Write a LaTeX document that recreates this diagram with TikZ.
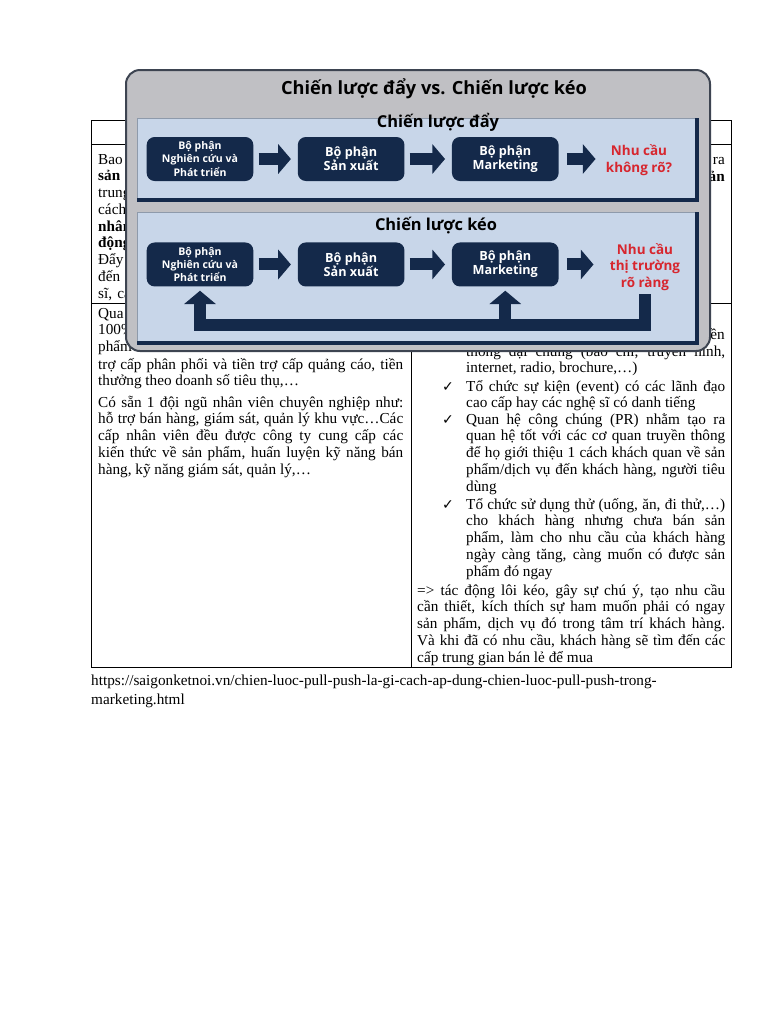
\documentclass[tikz,border=0pt]{standalone}
\usepackage{fontspec}
\setmainfont{Liberation Serif}
\newfontfamily\diagfont{Open Sans}
\newfontfamily\symbfont{DejaVu Sans}
\usetikzlibrary{arrows.meta, positioning}

\definecolor{navy}{HTML}{14294A}
\definecolor{panelblue}{HTML}{C8D6E9}
\definecolor{rimblue}{HTML}{8E9AAB}
\definecolor{boxgray}{HTML}{C0C0C4}
\definecolor{rimgray}{HTML}{3D4451}
\definecolor{needred}{HTML}{D7262E}

\newcommand\tabsize{\fontsize{13pt}{14.3pt}\selectfont\lineskiplimit=-30pt\relax}
\newcommand\ticksym{{\symbfont\fontsize{12pt}{12pt}\selectfont ✓}}

\begin{document}
\begin{tikzpicture}[x=0.03cm, y=-0.03cm,
    tabrule/.style={line width=0.7pt},
    cell/.style={font=\tabsize, inner sep=0pt, anchor=base west, align=justify},
    frag/.style={font=\tabsize, inner sep=0pt, anchor=base west, text width=1.5cm, align=left},
    rcell/.style={font=\tabsize, inner sep=0pt, anchor=base east},
    chk/.style={inner sep=0pt, anchor=base west},
    outerbox/.style={draw=rimgray, fill=boxgray, line width=0.06cm, rounded corners=0.42cm},
    panelrim/.style={draw=rimblue, line width=0.03cm},
    panelshade/.style={draw=navy, line width=0.1cm},
    heading/.style={font=\diagfont\bfseries\fontsize{15.5pt}{18pt}\selectfont, inner sep=0pt},
    subheading/.style={font=\diagfont\bfseries\fontsize{14pt}{16pt}\selectfont, inner sep=0pt},
    dept/.style={fill=navy, text=white, rounded corners=0.24cm, align=center,
      minimum width=3.2cm, minimum height=1.32cm, inner sep=0pt,
      font=\diagfont\bfseries\fontsize{10.8pt}{12.2pt}\selectfont},
    deptsmall/.style={dept, font=\diagfont\bfseries\fontsize{9pt}{11.4pt}\selectfont},
    need/.style={text=needred, align=center, inner sep=1pt,
      font=\diagfont\bfseries\fontsize{11.5pt}{14.2pt}\selectfont},
    blk/.style={navy, line width=0.36cm, -{Triangle[length=0.38cm, width=0.87cm]},
      shorten <=0.15cm, shorten >=0.2cm},
    fb/.style={navy, line width=0.36cm, line join=miter,
      -{Triangle[length=0.4cm, width=0.93cm]}, shorten >=0.12cm},
    node distance=1.32cm
  ]
    \fill[white] (0,0) rectangle (768,1024);

    % table behind the picture
    \draw[tabrule] (91,120) rectangle (731,667);
    \draw[tabrule] (91,144) -- (731,144);
    \draw[tabrule] (91,303) -- (731,303);
    \draw[tabrule] (411,120) -- (411,667);

    \node[frag] (leftA) at (98,164) {Bao\\ \textbf{sản}\\ trung\\ cách\\ \textbf{nhân}\\ \textbf{động}\\ Đẩy\\ đến\\ sĩ, ca};
    \node[rcell] (rightA1) at (725,164) {ra};
    \node[rcell] (rightA2) at (725,181) {\textbf{sản}};

    \node[frag] (leftB) at (98,318) {Qua\\ 100\%\\ phẩm};
    \node[cell, text width=9.15cm] (leftB1) at (98,369)
      {trợ cấp phân phối và tiền trợ cấp quảng cáo, tiền\linebreak
       thưởng theo doanh số tiêu thụ,…};
    \node[cell, text width=9.15cm] (leftB2) at (98,407)
      {Có sẵn 1 đội ngũ nhân viên chuyên nghiệp như:\linebreak
       hỗ trợ bán hàng, giám sát, quản lý khu vực…Các\linebreak
       cấp nhân viên đều được công ty cung cấp các\linebreak
       kiến thức về sản phẩm, huấn luyện kỹ năng bán\linebreak
       hàng, kỹ năng giám sát, quản lý,…};

    \node[rcell] (rightB0) at (725,339) {truyền};
    \node[cell, text width=7.77cm] (rightB1) at (466,356)
      {thông đại chúng (báo chí, truyền hình,\linebreak
       internet, radio, brochure,…)};
    \node[chk] (tickB2) at (442,391) {\ticksym};
    \node[cell, text width=7.77cm] (rightB2) at (466,391)
      {Tổ chức sự kiện (event) có các lãnh đạo\linebreak
       cao cấp hay các nghệ sĩ có danh tiếng};
    \node[chk] (tickB3) at (442,424) {\ticksym};
    \node[cell, text width=7.77cm] (rightB3) at (466,424)
      {Quan hệ công chúng (PR) nhằm tạo ra\linebreak
       quan hệ tốt với các cơ quan truyền thông\linebreak
       để họ giới thiệu 1 cách khách quan về sản\linebreak
       phẩm/dịch vụ đến khách hàng, người tiêu\linebreak
       dùng};
    \node[chk] (tickB4) at (442,509) {\ticksym};
    \node[cell, text width=7.77cm] (rightB4) at (466,509)
      {Tổ chức sử dụng thử (uống, ăn, đi thử,…)\linebreak
       cho khách hàng nhưng chưa bán sản\linebreak
       phẩm, làm cho nhu cầu của khách hàng\linebreak
       ngày càng tăng, càng muốn có được sản\linebreak
       phẩm đó ngay};
    \node[cell, text width=9.24cm] (rightB5) at (417,595)
      {=> tác động lôi kéo, gây sự chú ý, tạo nhu cầu\linebreak
       cần thiết, kích thích sự ham muốn phải có ngay\linebreak
       sản phẩm, dịch vụ đó trong tâm trí khách hàng.\linebreak
       Và khi đã có nhu cầu, khách hàng sẽ tìm đến các\linebreak
       cấp trung gian bán lẻ để mua};

    \node[cell, text width=19cm, align=left, font=\fontsize{13pt}{16.6pt}\selectfont] (source) at (91,685)
      {https://saigonketnoi.vn/chien-luoc-pull-push-la-gi-cach-ap-dung-chien-luoc-pull-push-trong-\\
       marketing.html};

    % picture laid over the table
    \draw[outerbox] (126,70) rectangle (710,351);
    \node[heading] (maintitle) at (434,89) {Chiến lược đẩy vs. Chiến lược kéo};

    \fill[panelblue] (137,118) rectangle (697,200);
    \draw[panelrim] (137,200) |- (697,118);
    \draw[panelshade] (137,200) -| (697,118);
    \fill[panelblue] (137,212) rectangle (697,343);
    \draw[panelrim] (137,343) |- (697,212);
    \draw[panelshade] (137,343) -| (697,212);

    \node[subheading] (pushtitle) at (438,122) {Chiến lược đẩy};
    \node[subheading] (pulltitle) at (436,226) {Chiến lược kéo};

    \node[deptsmall] (rdA) at (200,159) {Bộ phận\\ Nghiên cứu và\\ Phát triển};
    \node[dept, right=of rdA] (prodA) {Bộ phận\\ Sản xuất};
    \node[dept, right=1.41cm of prodA] (mktA) {Bộ phận\\ Marketing};
    \node[need] (needA) at (639,160) {Nhu cầu\\ không rõ?};

    \node[deptsmall, below=1.83cm of rdA] (rdB) {Bộ phận\\ Nghiên cứu và\\ Phát triển};
    \node[dept, right=of rdB] (prodB) {Bộ phận\\ Sản xuất};
    \node[dept, right=1.41cm of prodB] (mktB) {Bộ phận\\ Marketing};
    \node[need] (needB) at (645,267) {Nhu cầu\\ thị trường\\ rõ ràng};

    \draw[blk] (rdA) -- (prodA); \draw[blk] (prodA) -- (mktA);
    \draw[blk, shorten <=0.24cm, shorten >=0.27cm] (mktA) -- (mktA -| needA.west);
    \draw[blk] (rdB) -- (prodB); \draw[blk] (prodB) -- (mktB);
    \draw[blk, shorten <=0.24cm, shorten >=0.45cm] (mktB) -- (mktB -| needB.west);

    \coordinate (loopy) at (0,324.5);
    \draw[fb, shorten <=0.06cm] (needB.south) |- (rdB.south |- loopy) -- (rdB.south);
    \draw[fb] (mktB.south |- loopy) -- (mktB.south);
  \end{tikzpicture}
\end{document}
